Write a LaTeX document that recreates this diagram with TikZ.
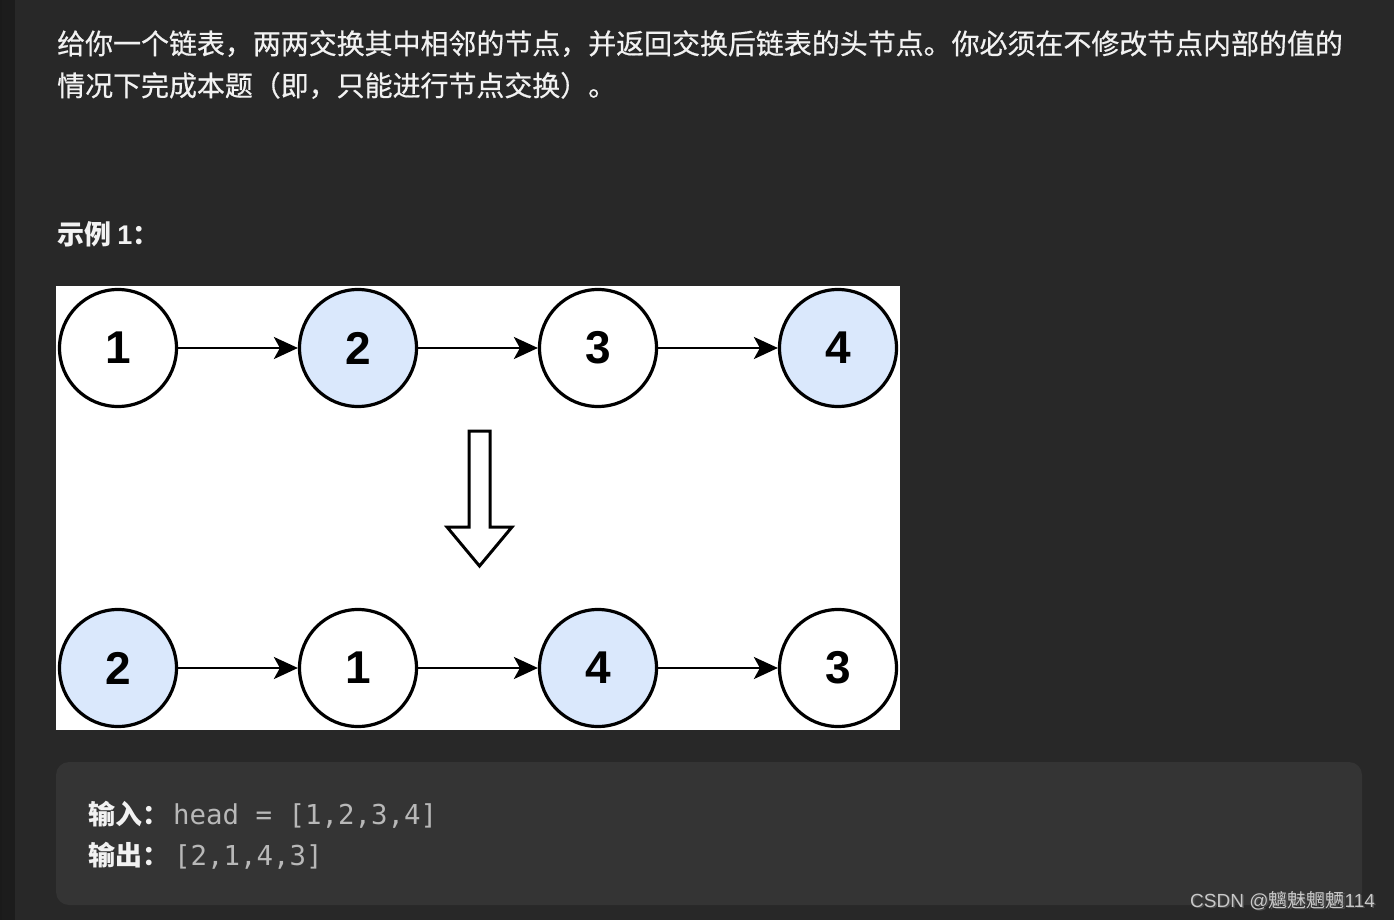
\documentclass[tikz,border=0pt]{standalone}
\usepackage{fontspec}
\setmainfont{Liberation Sans}
\newfontfamily\cjk{Noto Sans CJK SC}
\newfontfamily\cjkm[FakeBold=0.6]{Noto Sans CJK SC}
\newfontfamily\mono{DejaVu Sans Mono}
\newfontfamily\numfont{Liberation Sans}
\usetikzlibrary{arrows.meta}
\definecolor{bg}{HTML}{282828}
\definecolor{strip}{HTML}{1C1C1C}
\definecolor{codebg}{HTML}{343434}
\definecolor{txt}{HTML}{F2F2F2}
\definecolor{codetxt}{HTML}{B8B8B8}
\definecolor{nodeblue}{HTML}{DAE8FC}
\definecolor{wm}{HTML}{C8C8C8}
\tikzset{
  listnode/.style={circle, draw=black, line width=3.2pt, minimum size=117pt, inner sep=0pt, fill=white,
    font=\numfont\fontsize{46}{50}\selectfont\bfseries},
  bluenode/.style={listnode, fill=nodeblue},
  link/.style={line width=2.6pt, -{Stealth[length=24pt, width=22pt, inset=6pt]}},
  bodytext/.style={anchor=base west, inner sep=0pt, text=txt, font=\cjkm\fontsize{27.95}{34}\selectfont},
  headtext/.style={anchor=base west, inner sep=0pt, text=txt, font=\cjk\fontsize{27}{32}\selectfont\bfseries},
  codelabel/.style={anchor=base west, inner sep=0pt, text=txt, font=\cjk\fontsize{27}{32}\selectfont\bfseries},
  codetext/.style={anchor=base west, inner sep=0pt, text=codetxt, font=\mono\fontsize{27.4}{32}\selectfont},
}
\begin{document}
\begin{tikzpicture}[x=1pt, y=-1pt]
\useasboundingbox (0,0) rectangle (1394,920);
\fill[bg] (0,0) rectangle (1394,920);
\fill[black!35!bg] (0,0) rectangle (2,920);
\fill[strip] (2,0) rectangle (15,920);

% paragraph
\node[bodytext] (l1) at (57,54) {给你一个链表，两两交换其中相邻的节点，并返回交换后链表的头节点。你必须在不修改节点内部的值的};
\node[bodytext] (l2) at (57,96) {情况下完成本题（即，只能进行节点交换）。};
\node[headtext] (ex) at (57,244) {示例 {\numfont\bfseries 1}：};

% white panel
\fill[white] (56,286) rectangle (900,730);
\begin{scope}
\clip (56,286) rectangle (900,730);
\node[listnode] (a1) at (118,348) {1};
\node[bluenode] (a2) at (358,348) {2};
\node[listnode] (a3) at (598,348) {3};
\node[bluenode] (a4) at (838,348) {4};
\node[bluenode] (b1) at (118,668) {2};
\node[listnode] (b2) at (358,668) {1};
\node[bluenode] (b3) at (598,668) {4};
\node[listnode] (b4) at (838,668) {3};
\draw[link] (a1) -- (a2);
\draw[link] (a2) -- (a3);
\draw[link] (a3) -- (a4);
\draw[link] (b1) -- (b2);
\draw[link] (b2) -- (b3);
\draw[link] (b3) -- (b4);
\end{scope}
% hollow down arrow
\draw[line width=3pt, fill=white, line join=miter]
  (469,431) -- (490,431) -- (490,527) -- (512,527) -- (479.5,566) -- (447,527) -- (469,527) -- cycle;

% code box
\fill[codebg, rounded corners=13pt] (56,762) rectangle (1362,905);
\node[codelabel] (in) at (88,824) {输入：};
\node[codetext] (inv) at (173,824) {head = [1,2,3,4]};
\node[codelabel] (out) at (88,865) {输出：};
\node[codetext] (outv) at (174,865) {[2,1,4,3]};

% watermark
\node[anchor=base west, inner sep=0pt, text=black!70, font=\fontsize{19}{22}\selectfont] at (1191.5,908.5) {CSDN @{\cjk 魑魅魍魉}114};
\node[anchor=base west, inner sep=0pt, text=wm, font=\fontsize{19}{22}\selectfont] (wmk) at (1190,907) {CSDN @{\cjk 魑魅魍魉}114};
\end{tikzpicture}
\end{document}
